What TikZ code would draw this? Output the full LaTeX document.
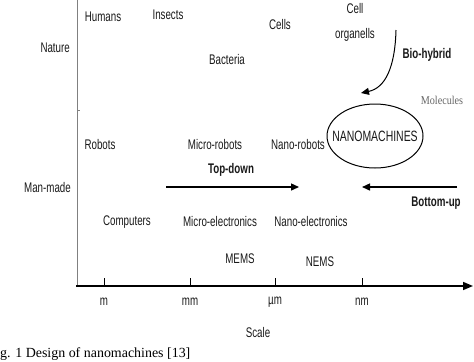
\documentclass[tikz,border=0pt]{standalone}
\usepackage{fontspec}
\setmainfont{Liberation Sans}[FakeStretch=0.7]
\newfontfamily\serifcap{Liberation Serif}
\newfontfamily\serifnarrow{Liberation Serif}[FakeStretch=0.85]
\usetikzlibrary{arrows.meta, shapes.geometric, positioning}

\begin{document}
\begin{tikzpicture}[x=1bp, y=-1bp,
    lbl/.style={font=\fontsize{14}{16}\selectfont, text=black!90, inner sep=1pt},
    way/.style={lbl, font=\fontsize{14}{16}\selectfont\bfseries},
    axisline/.style={line width=1.6bp, black},
    arr/.style={-{Triangle[length=8bp, width=7bp]}, line width=1.4bp, black},
  ]
  \useasboundingbox (0,0) rectangle (474,361);

  % axes
  \draw[gray, line width=1bp] (77,0) -- (77,286);
  \draw[gray] (77,110) -- (80,110);
  \draw[axisline, -{Triangle[length=10bp, width=8bp]}] (76,286) -- (473,286);
  \foreach \x/\u/\n in {104/m/m, 190/mm/mm, 275/µm/um, 362/nm/nm} {
    \draw[black] (\x,278) -- (\x,286);
    \node[lbl] (unit-\n) at (\x,302) {\u};
  }
  \node[lbl] (scale) at (258,333) {Scale};

  % rows
  \node[lbl, anchor=east] (nature) at (71,48) {Nature};
  \node[lbl, anchor=east] (manmade) at (72,188) {Man-made};

  \node[lbl] (humans) at (103,17) {Humans};
  \node[lbl] (insects) at (168,15) {Insects};
  \node[lbl] (bacteria) at (227,60) {Bacteria};
  \node[lbl] (cells) at (280,25) {Cells};
  \node[lbl, align=center, font=\fontsize{14}{25}\selectfont] (organells) at (355,22) {Cell\\organells};
  \node[way] (biohybrid) at (427,55) {Bio-hybrid};
  \node[lbl, font=\serifnarrow\fontsize{12}{14}\selectfont, text=black!60] (molecules) at (442,100) {Molecules};

  \node[lbl, font=\fontsize{15}{17}\selectfont] (nano) at (375,136) {NANOMACHINES};
  \draw[line width=1bp] (nano.center) ellipse [x radius=48, y radius=32];

  \node[lbl] (robots) at (100,145) {Robots};
  \node[lbl] (microrobots) at (215,145) {Micro-robots};
  \node[lbl] (nanorobots) at (298,145) {Nano-robots};

  \node[way] (topdown) at (231,170) {Top-down};
  \node[way] (bottomup) at (436,203) {Bottom-up};

  \node[lbl] (computers) at (127,222) {Computers};
  \node[lbl] (microel) at (220,222) {Micro-electronics};
  \node[lbl] (nanoel) at (311,222) {Nano-electronics};
  \node[lbl] (mems) at (240,259) {MEMS};
  \node[lbl] (nems) at (320,262) {NEMS};

  % arrows
  \coordinate (td-start) at (166,187);
  \coordinate (td-end) at (299,187);
  \coordinate (bu-start) at (457,187);
  \coordinate (bu-end) at (362,187);
  \coordinate (bh-start) at (396,30);
  \coordinate (bh-end) at (361,93);
  \draw[arr] (td-start) -- (td-end);
  \draw[arr] (bu-start) -- (bu-end);
  \draw[arr, line width=1bp] (bh-start) .. controls +(-1,38) and +(24,-5) .. (bh-end);

  % caption
  \node[anchor=base west, inner sep=0pt, font=\serifcap\fontsize{14}{16}\selectfont] (caption) at (0,357) {g. 1 Design of nanomachines [13]};
\end{tikzpicture}
\end{document}
